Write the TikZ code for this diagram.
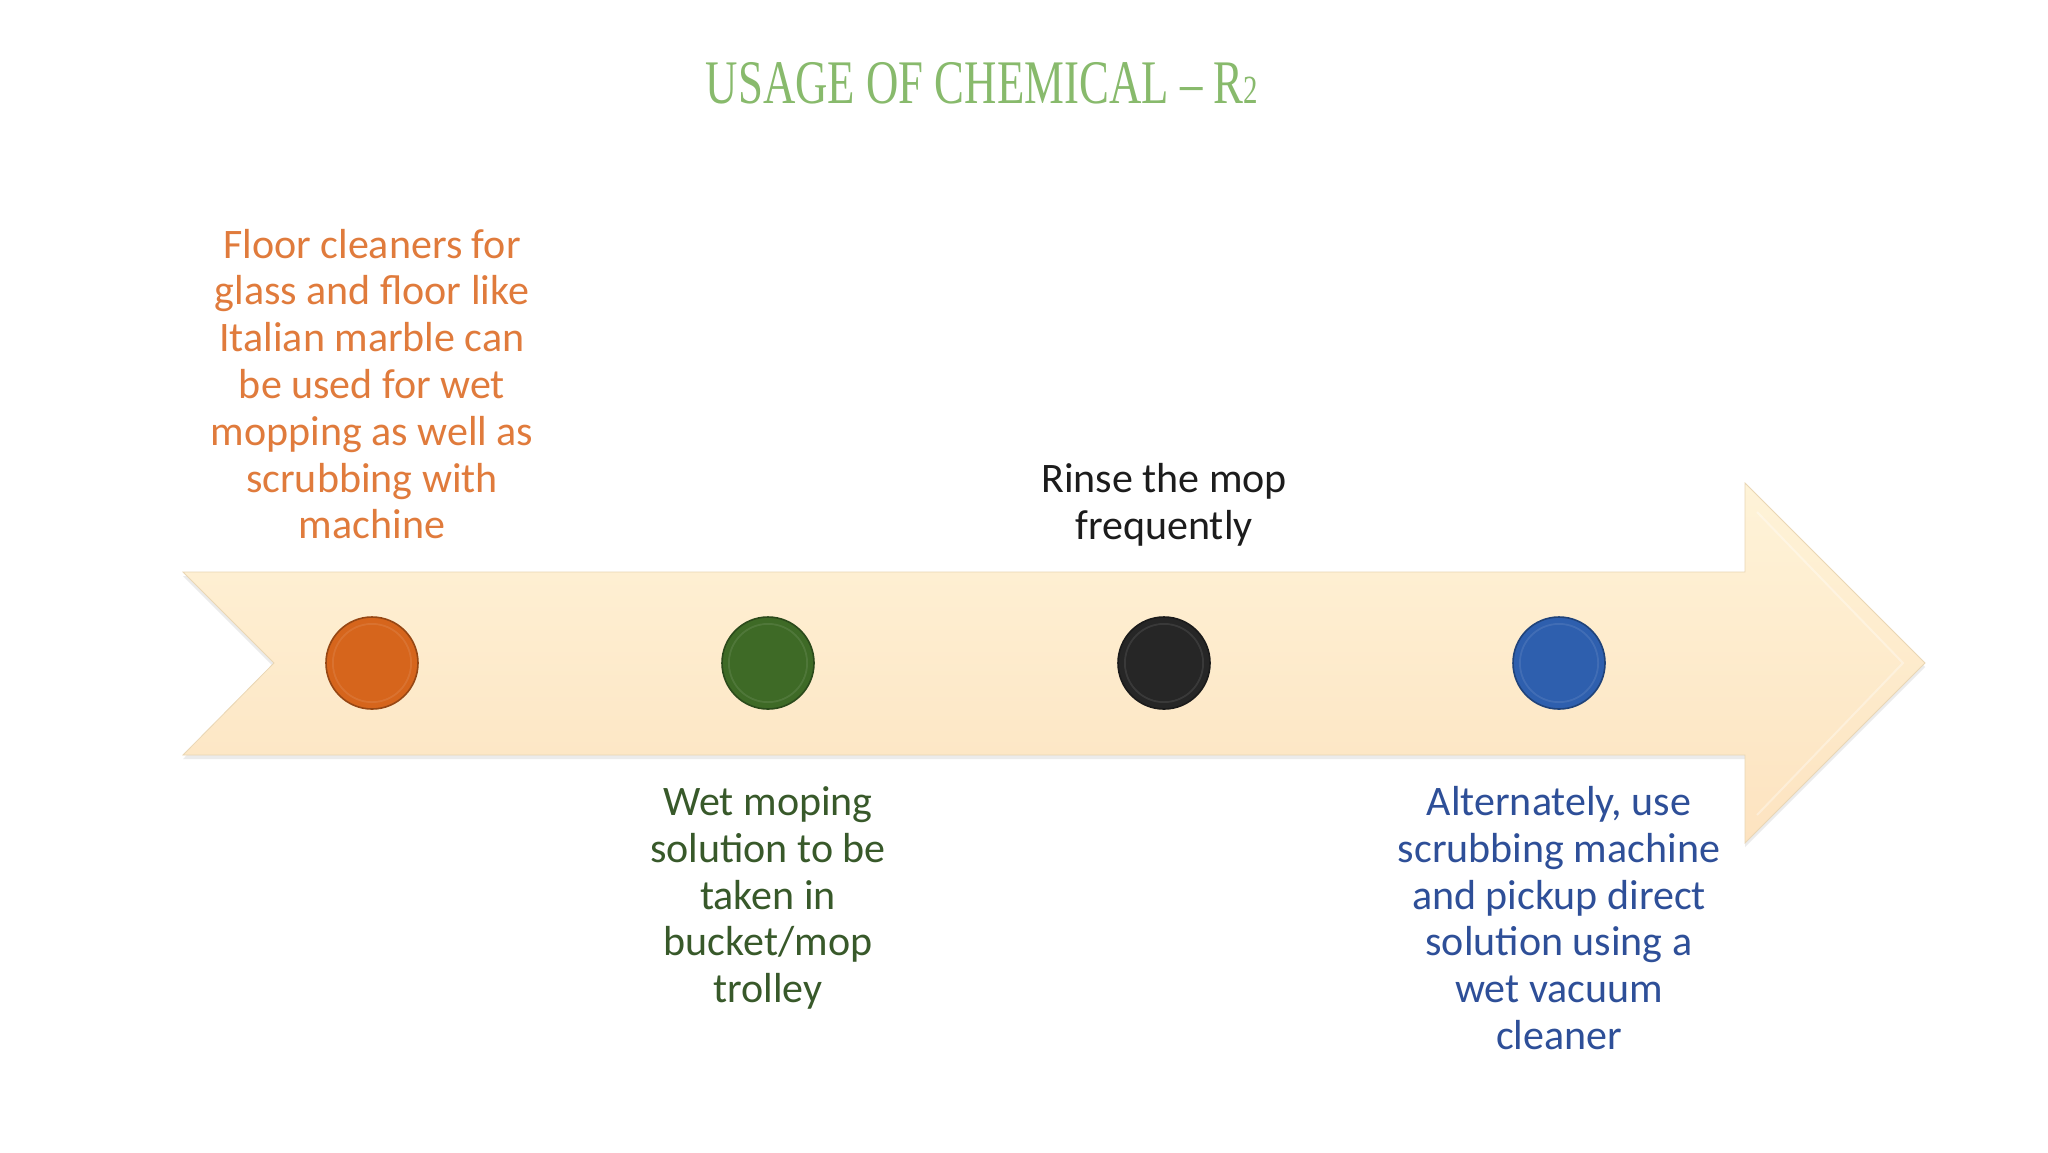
\documentclass[tikz,border=0pt]{standalone}
\usepackage{fontspec}
\setmainfont{Carlito}
\newfontfamily\titlefont{Liberation Serif}
\usepackage{graphicx}
\definecolor{titlegreen}{HTML}{88BA6C}
\definecolor{titleedge}{HTML}{4E6B3E}
\definecolor{txtorange}{HTML}{E07B3C}
\definecolor{txtgreen}{HTML}{38592A}
\definecolor{txtblue}{HTML}{2E4F98}
\definecolor{txtblack}{HTML}{1C1C1C}
\definecolor{dotorange}{HTML}{D6651C}
\definecolor{dotgreen}{HTML}{3E6A26}
\definecolor{dotblack}{HTML}{262626}
\definecolor{dotblue}{HTML}{2E5FAE}
\definecolor{arrowtop}{HTML}{FEF3D8}
\definecolor{arrowbot}{HTML}{FDE3C0}
\definecolor{arrowedge}{HTML}{E9D6B4}
\tikzset{
  stepdot/.style={circle, minimum size=46pt, inner sep=0pt, line width=0.8pt},
  steptext/.style={align=center, font=\fontsize{21pt}{23.4pt}\selectfont, inner sep=0pt},
}
\begin{document}
\begin{tikzpicture}[x=0.5pt,y=-0.5pt]
\useasboundingbox (0,0) rectangle (2048,1152);
\fill[white] (0,0) rectangle (2048,1152);
% title
\node[text=titlegreen, inner sep=0pt] (title) at (982,83)
  {\resizebox{276pt}{\height}{\titlefont\fontsize{31pt}{34pt}\selectfont USAGE OF CHEMICAL – R{\fontsize{20pt}{20pt}\selectfont 2}}};
% arrow shadow
\fill[black!25, opacity=0.3] (183,576) -- (1745,576) -- (1745,487) -- (1925,667) -- (1745,847) -- (1745,759) -- (183,759) -- (274,667) -- cycle;
% arrow
\shade[top color=arrowtop, bottom color=arrowbot, draw=arrowedge, line width=0.4pt]
  (183,572) -- (1745,572) -- (1745,483) -- (1925,663) -- (1745,843) -- (1745,755) -- (183,755) -- (274,663) -- cycle;
\draw[white, opacity=0.35, line width=1pt] (1757,512) -- (1903,663) -- (1757,815);
% dots
\foreach \n/\x/\c in {d1/372/dotorange, d2/768/dotgreen, d3/1164/dotblack, d4/1559/dotblue}{
  \node[stepdot, fill=\c, draw=\c!70!black] (\n) at (\x,663) {};
  \draw[\c!70!white, line width=1pt, opacity=0.3] (\n.center) circle[radius=19.5pt];
  \fill[\c] (\n.center) circle[radius=19pt];
}
% texts
\node[steptext, text=txtorange] (t1) at (372,384)
  {Floor cleaners for\\glass and floor like\\Italian marble can\\be used for wet\\mopping as well as\\scrubbing with\\machine};
\node[steptext, text=txtgreen] (t2) at (768,898)
  {Wet moping\\solution to be\\taken in\\bucket/mop\\trolley};
\node[steptext, text=txtblack] (t3) at (1164,505)
  {Rinse the mop\\frequently};
\node[steptext, text=txtblue] (t4) at (1559,918)
  {Alternately, use\\scrubbing machine\\and pickup direct\\solution using a\\wet vacuum\\cleaner};
\end{tikzpicture}
\end{document}
